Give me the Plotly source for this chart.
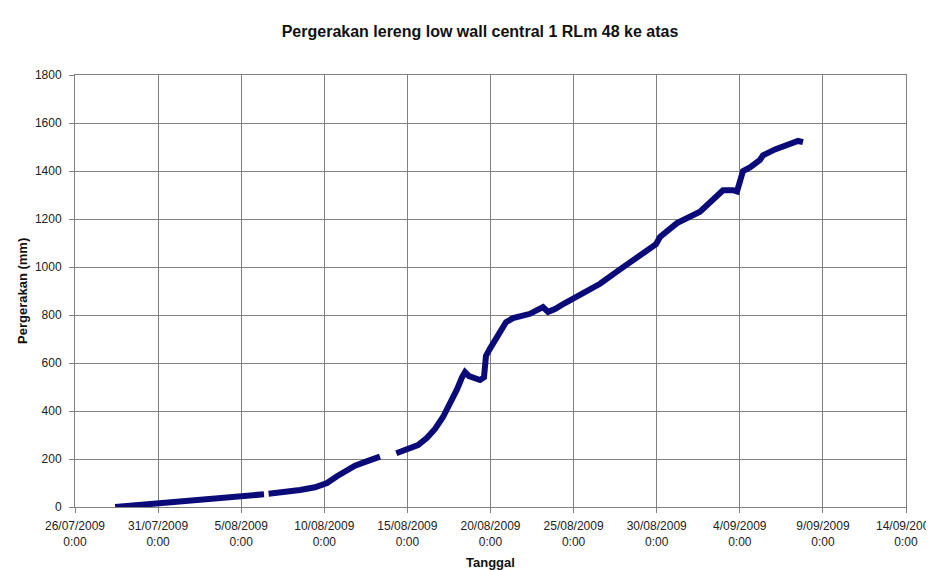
import plotly.graph_objects as go

# --- data ---
dates = [
    "2009-07-28 10:00", "2009-07-29 07:25", "2009-07-30 05:05", "2009-07-31 00:00",
    "2009-08-01 00:25", "2009-08-01 22:03", "2009-08-02 19:43", "2009-08-03 17:22",
    "2009-08-05 00:00", "2009-08-05 19:55", "2009-08-06 08:55", "2009-08-06 12:00",
    "2009-08-06 15:35", "2009-08-07 15:15", "2009-08-08 12:55", "2009-08-09 10:34",
    "2009-08-10 03:53", "2009-08-10 18:20", "2009-08-11 05:53", "2009-08-11 20:20",
    "2009-08-12 15:06", "2009-08-13 08:25", "2009-08-13 20:00",
    "2009-08-14 07:58", "2009-08-15 00:00", "2009-08-15 15:19", "2009-08-16 04:18",
    "2009-08-16 15:51", "2009-08-17 03:25", "2009-08-17 13:31", "2009-08-17 23:37",
    "2009-08-18 06:50", "2009-08-18 11:11", "2009-08-18 16:57", "2009-08-18 22:43",
    "2009-08-19 08:50", "2009-08-19 14:37", "2009-08-19 17:30", "2009-08-19 23:17",
    "2009-08-20 13:43", "2009-08-20 22:23", "2009-08-21 08:30", "2009-08-21 18:36",
    "2009-08-22 09:03", "2009-08-22 19:09", "2009-08-23 03:49", "2009-08-23 11:02",
    "2009-08-23 21:08", "2009-08-24 11:35", "2009-08-25 09:14", "2009-08-26 14:07",
    "2009-08-27 18:59", "2009-08-28 16:39", "2009-08-29 14:19", "2009-08-29 23:00",
    "2009-08-30 04:46", "2009-08-31 05:18", "2009-09-01 14:31", "2009-09-02 23:44",
    "2009-09-03 14:11", "2009-09-03 19:58", "2009-09-04 04:38", "2009-09-04 14:44",
    "2009-09-05 05:10", "2009-09-05 09:30", "2009-09-06 02:50", "2009-09-07 00:30",
    "2009-09-07 12:03", "2009-09-07 19:16",
]
movement_mm = [
    0, 5, 11, 17,
    24, 30, 35, 40,
    48, 51, 53, None,
    55, 62, 71, 82,
    100, 128, 150, 172,
    192, 210, None,
    224, 240, 258, 288,
    325, 375, 430, 490,
    540, 562, 545, 537,
    529, 540, 630, 660,
    728, 770, 787, 795,
    805, 820, 833, 813,
    825, 850, 883, 930,
    990, 1035, 1083, 1095,
    1125, 1183, 1230, 1320,
    1320, 1315, 1400, 1415,
    1446, 1465, 1490, 1517,
    1525, 1520,
]

tick_dates = ["2009-07-26", "2009-07-31", "2009-08-05", "2009-08-10", "2009-08-15",
              "2009-08-20", "2009-08-25", "2009-08-30", "2009-09-04", "2009-09-09",
              "2009-09-14"]
tick_labels = ["26/07/2009<br>0:00", "31/07/2009<br>0:00", "5/08/2009<br>0:00",
               "10/08/2009<br>0:00", "15/08/2009<br>0:00", "20/08/2009<br>0:00",
               "25/08/2009<br>0:00", "30/08/2009<br>0:00", "4/09/2009<br>0:00",
               "9/09/2009<br>0:00", "14/09/2009<br>0:00"]

title_text = "Pergerakan lereng low wall central 1 RLm 48 ke atas"
x_title = "Tanggal"
y_title = "Pergerakan (mm)"

font_family = "Liberation Sans, Arial, sans-serif"
# page body has an 8px default margin; margins below compensate for it
OFF = 8

fig = go.Figure()
fig.add_trace(go.Scatter(
    x=dates, y=movement_mm, mode="lines",
    line=dict(color="#0a0a78", width=6),
    connectgaps=False, showlegend=False,
))

fig.update_layout(
    width=934, height=570,
    paper_bgcolor="white", plot_bgcolor="white",
    margin=dict(l=75 - OFF, r=28 + OFF, t=75 - OFF, b=63 + OFF, autoexpand=False),
    font=dict(family=font_family, size=12, color="#222"),
    title=dict(text="<b>" + title_text + "</b>", x=(480 - OFF) / 934, xanchor="center",
               xref="container", yref="container",
               y=1 - (31 - OFF) / 570, yanchor="middle",
               font=dict(size=16, color="#111", family=font_family)),
    annotations=[
        dict(text="<b>" + y_title + "</b>", xref="paper", yref="paper",
             x=0, y=0.5, xshift=-53, xanchor="center", yanchor="middle",
             textangle=-90, showarrow=False, font=dict(size=13, color="#111")),
        dict(text="<b>" + x_title + "</b>", xref="paper", yref="paper",
             x=0.5, y=0, yshift=-55, xanchor="center", yanchor="middle",
             showarrow=False, font=dict(size=13, color="#111")),
    ],
)
fig.update_xaxes(
    type="date", range=[tick_dates[0], tick_dates[-1]],
    tickmode="array", tickvals=tick_dates, ticktext=tick_labels,
    showgrid=True, gridcolor="#808080", gridwidth=1,
    showline=True, linecolor="#808080", linewidth=1, mirror=True,
    ticks="outside", ticklen=5, tickcolor="#808080",
    tickfont=dict(size=12, color="#222"), ticklabelstandoff=3,
    automargin=False, zeroline=False,
)
fig.update_yaxes(
    range=[0, 1800], tickmode="linear", tick0=0, dtick=200,
    showgrid=True, gridcolor="#808080", gridwidth=1,
    showline=True, linecolor="#808080", linewidth=1, mirror=True,
    ticks="outside", ticklen=5, tickcolor="#808080",
    tickfont=dict(size=12, color="#222"), ticklabelstandoff=5,
    automargin=False, zeroline=False,
)

fig.write_html("out.html")
